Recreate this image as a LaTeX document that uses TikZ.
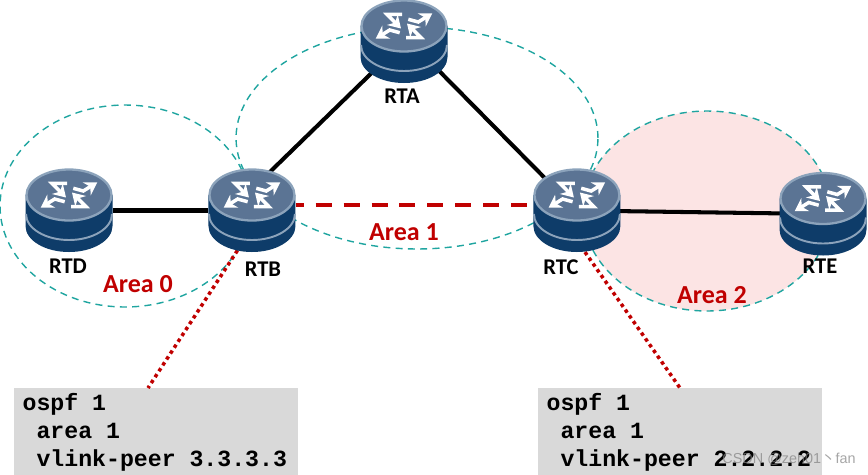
\documentclass[tikz,border=0pt]{standalone}
\usepackage{fontspec}
\setmainfont{Carlito}
\newfontfamily\codefont{Liberation Mono}
\newfontfamily\markfont{Liberation Sans}
\newfontfamily\cjk{Noto Sans CJK SC}
\usetikzlibrary{positioning,shapes.geometric,arrows.meta}
\definecolor{rtdark}{HTML}{0E3C69}
\definecolor{rtface}{HTML}{5B7494}
\definecolor{rtrim}{HTML}{8CA3BB}
\definecolor{areateal}{HTML}{1FA5A0}
\definecolor{areared}{HTML}{C00000}
\definecolor{areapink}{HTML}{FCE4E4}
\definecolor{boxgray}{HTML}{D9D9D9}
\tikzset{
  pics/router/.style={code={
    \fill[rtdark] (-43.5,-15.5) -- (-43.5,15.5) arc[start angle=180,end angle=0,x radius=43.5,y radius=26] -- (43.5,-15.5) -- cycle;
    \draw[rtrim, line width=1.1pt] (-43,3.5) arc[start angle=180,end angle=0,x radius=43,y radius=26];
    \draw[rtrim, fill=rtface, line width=1.3pt] (0,-15.5) ellipse [x radius=42.5, y radius=25.5];
    \begin{scope}[shift={(0,-15.5)}, white, line width=2pt, -{Stealth[length=7pt,width=8.5pt]}]
      \draw (4.3,-6.7) -- (14.3,-4) -- (28.3,-12.7);
      \draw (-4.3,6.7) -- (-14.3,4) -- (-28.3,12.7);
      \draw (-2,-11.7) -- (-17,-11.7) -- (-3,2.5);
      \draw (2,11.7) -- (17,11.7) -- (3,-2.5);
    \end{scope}
  }}
}
\begin{document}
\begin{tikzpicture}[x=0.02cm, y=-0.02cm]
\tikzstyle{main}=[ellipse, minimum width=1.74cm, minimum height=1.68cm, inner sep=0pt]
\tikzstyle{area}=[ellipse, inner sep=0pt, draw=areateal, line width=0.8pt, dash pattern=on 4pt off 3pt]
\tikzstyle{connect}=[black, line width=2.3pt]
\tikzstyle{vlink}=[areared, line width=2.5pt, dash pattern=on 9.1pt off 6.8pt, dash phase=4.6pt]
\tikzstyle{config}=[areared, line width=2pt, dash pattern=on 2pt off 2pt]
\tikzstyle{rtname}=[font=\fontsize{12.8}{14}\selectfont\bfseries, inner sep=0pt]
\tikzstyle{areaname}=[font=\fontsize{14.8}{17}\selectfont\bfseries, text=areared, inner sep=0pt]
\tikzstyle{box}=[rectangle, fill=boxgray, anchor=north west, minimum width=5.68cm, minimum height=1.72cm, inner xsep=4.6pt, inner ysep=3pt, text width=5.35cm, align=left, font=\fontsize{13.2}{16}\selectfont\codefont\bfseries, execute at begin node={\spaceskip=0.6em\relax}]
  \useasboundingbox (0,0) rectangle (868,474);
  \node[area, fill=areapink, minimum width=4.96cm, minimum height=4cm] (area2) at (707,211) {};
  \node[area, minimum width=5cm, minimum height=4.04cm] (area0) at (125,206) {};
  \node[area, minimum width=7.24cm, minimum height=4.44cm] (area1) at (417,138) {};

  \node[main] (RTD) at (69,210.5) {};
  \node[main] (RTB) [node distance=3.66cm, right of=RTD] {};
  \node[main] (RTA) at (404,41.5) {};
  \node[main] (RTC) [node distance=6.5cm, right of=RTB] {};
  \node[main] (RTE) at (823,214) {};

  \node[box] (cfgB) at (14,388) {ospf 1\\\ area 1\\\ vlink-peer 3.3.3.3};
  \node[box] (cfgC) at (538,388) {ospf 1\\\ area 1\\\ vlink-peer 2.2.2.2};
  \coordinate (peerB) at (148,388);
  \coordinate (peerC) at (680,388);

  \draw[connect] (RTD) -- (RTB);
  \draw[connect] ([yshift=12pt]RTB.center) -- (RTA.center);
  \draw[connect] ([yshift=3.5pt]RTA.center) -- (RTC.center);
  \draw[connect] (RTC.center) -- (RTE.center);
  \draw[vlink] ([yshift=3pt]RTB.east) -- ([yshift=3pt]RTC.west);
  \draw[config] (RTB.250) -- (peerB);
  \draw[config] (RTC.281) -- (peerC);

  \foreach \rt in {RTD,RTB,RTA,RTC,RTE}
    \pic at (\rt) {router};

  \node[rtname] (nameD) [node distance=1.11cm, below of=RTD, xshift=-0.02cm] {RTD};
  \node[rtname] (nameB) [node distance=1.17cm, below of=RTB, xshift=0.22cm] {RTB};
  \node[rtname] (nameA) [node distance=1.09cm, below of=RTA, xshift=-0.04cm] {RTA};
  \node[rtname] (nameC) [node distance=1.14cm, below of=RTC, xshift=-0.32cm] {RTC};
  \node[rtname] (nameE) [node distance=1.04cm, below of=RTE, xshift=-0.06cm] {RTE};
  \node[areaname] (label0) at (138,284) {Area 0};
  \node[areaname] (label1) at (404,232) {Area 1};
  \node[areaname] (label2) at (712,295) {Area 2};
  \node[text=gray, opacity=0.7, inner sep=0pt, font=\fontsize{8.2}{10}\selectfont\markfont] (mark) at (789,459) {CSDN @zeh01{\cjk 丶}fan};
\end{tikzpicture}
\end{document}
